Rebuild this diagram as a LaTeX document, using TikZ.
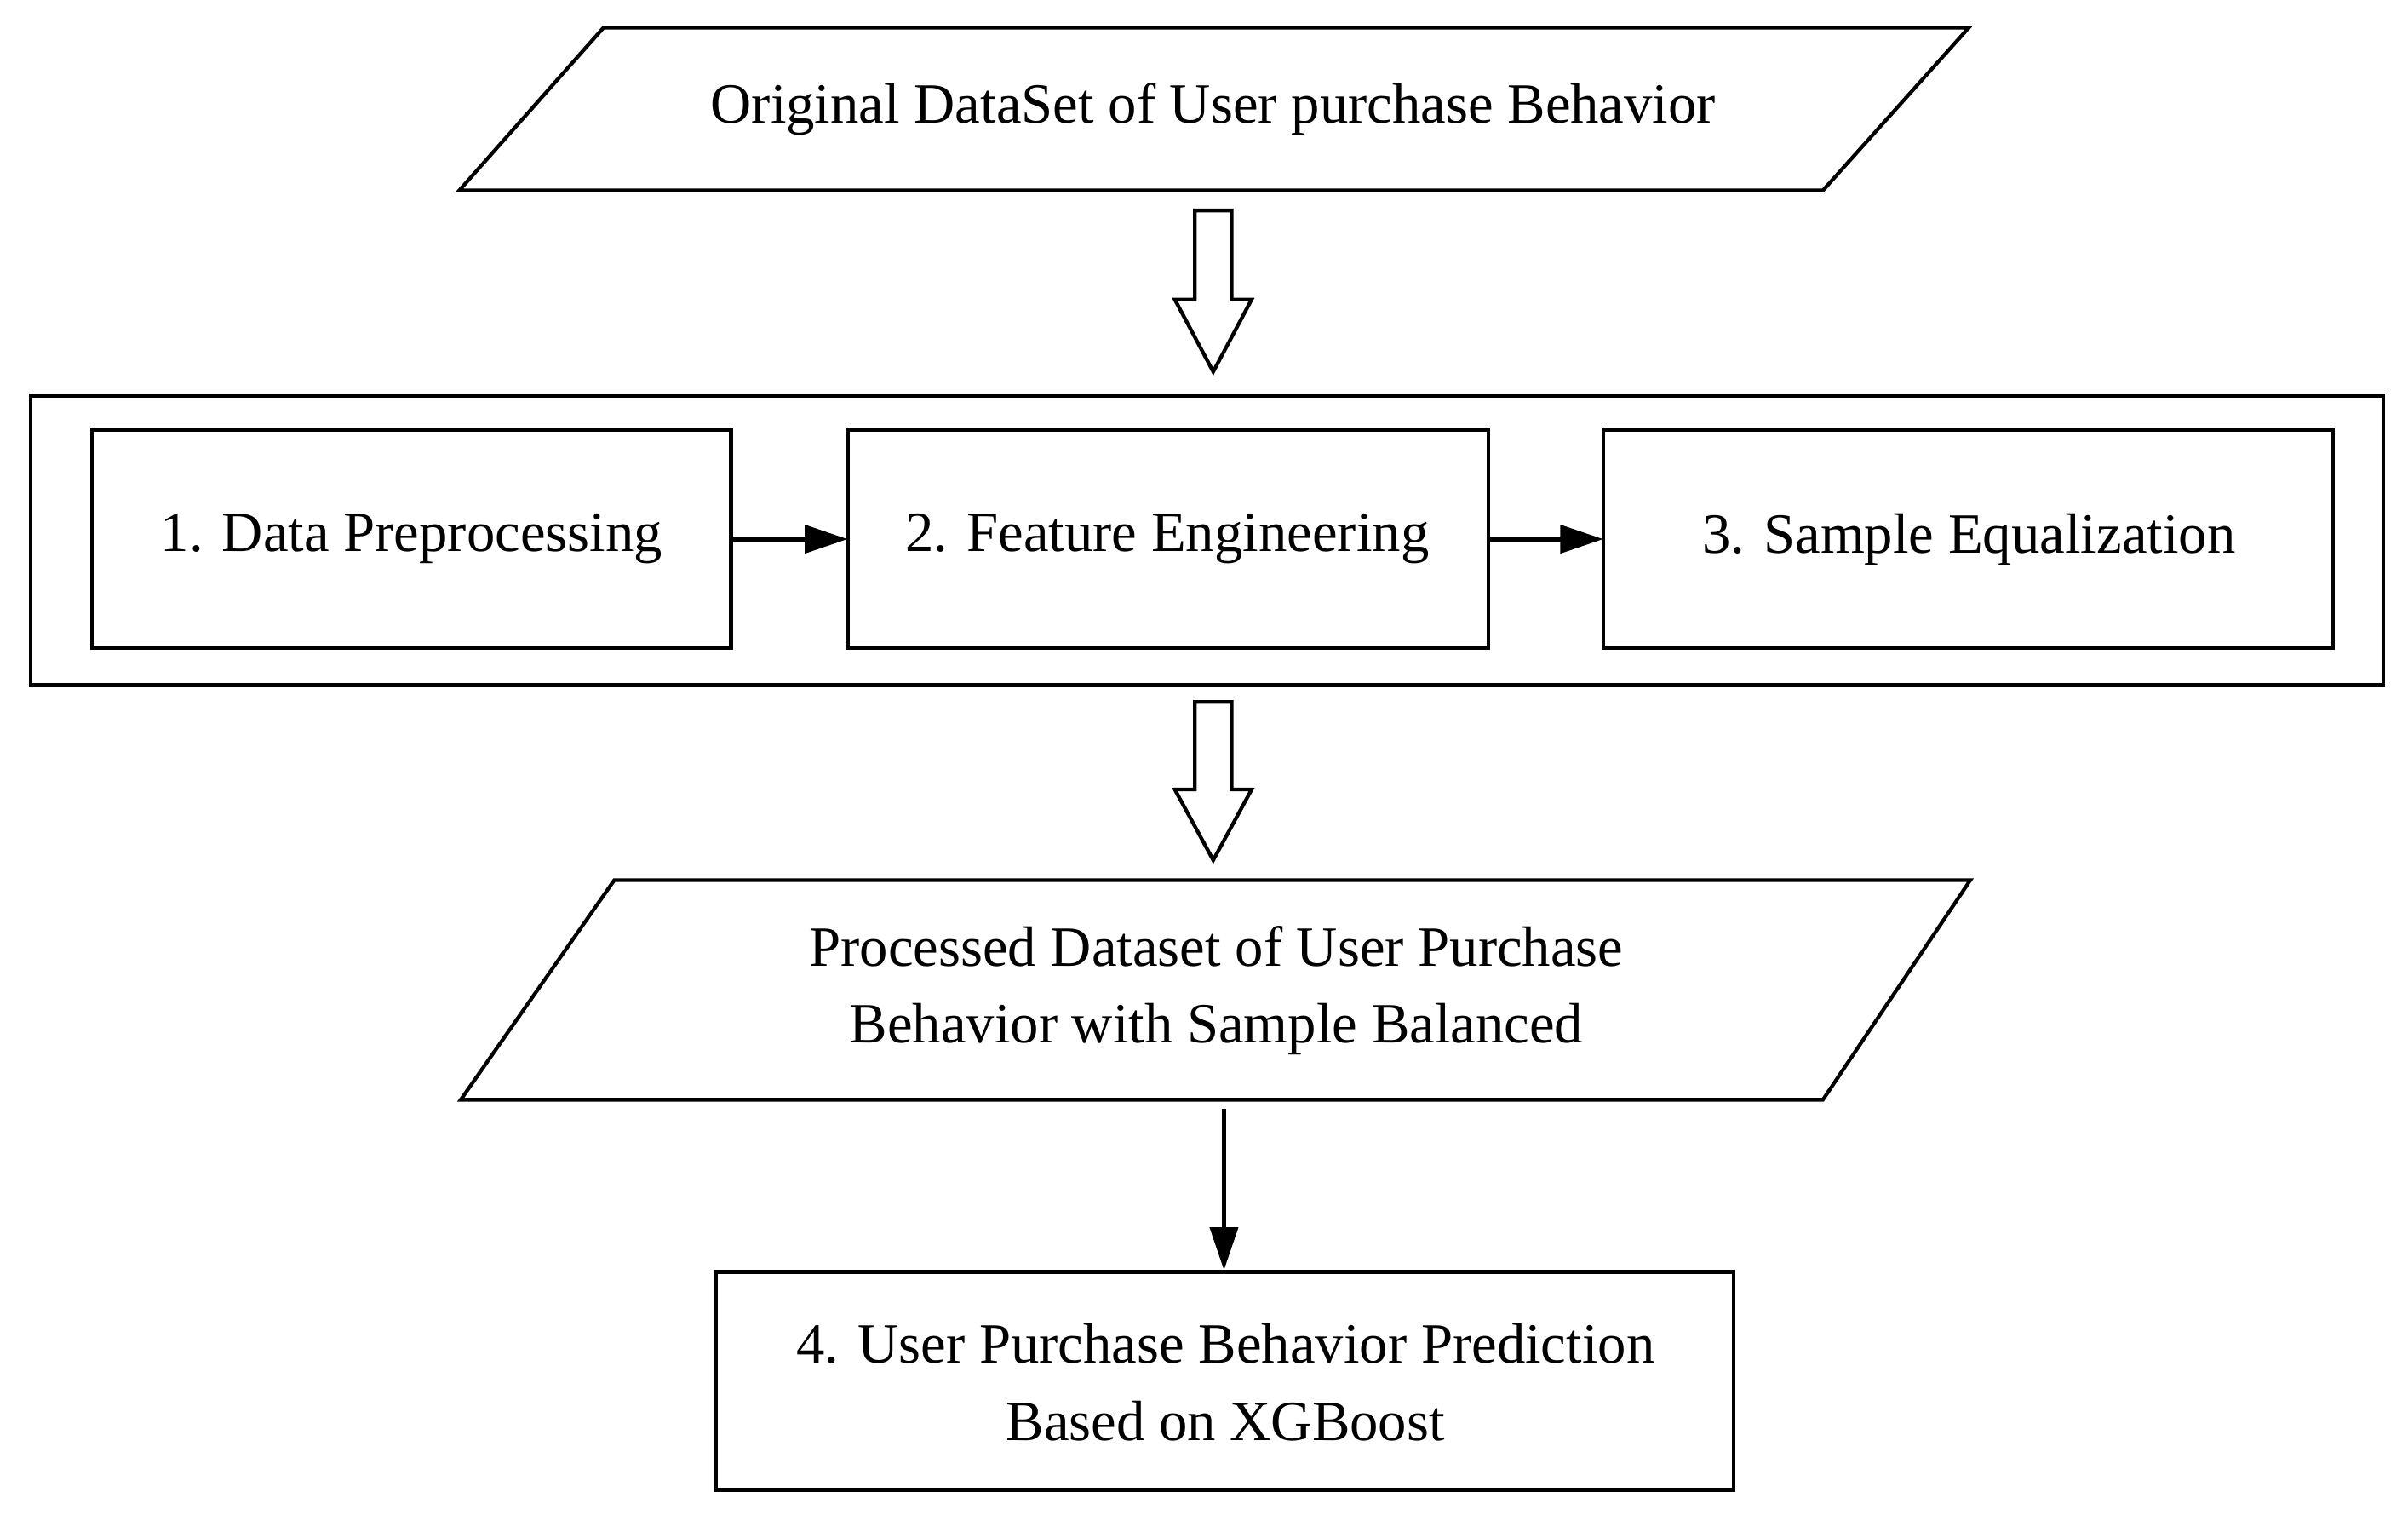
\documentclass[tikz,border=0pt]{standalone}
\usepackage{fontspec}
\setmainfont{Liberation Serif}
\usetikzlibrary{arrows.meta}
\begin{document}
\begin{tikzpicture}[x=0.5pt,y=-0.5pt,
  box/.style={draw,line width=1.2pt,inner sep=0pt},
  txt/.style={font=\fontsize{18.5}{25}\selectfont,align=center},
  hollow/.style={draw,line width=1.2pt,fill=white},
  solid/.style={draw,line width=1.6pt,-{Triangle[length=14pt,width=9pt]}}]
\useasboundingbox (0,0) rectangle (1568,990);
% top parallelogram
\draw[line width=1.2pt] (393,18) -- (1282,18) -- (1187,124) -- (299,124) -- cycle;
\node[txt] (orig) at (790,71) {Original DataSet of User purchase Behavior};
% hollow arrow 1
\draw[hollow] (778,137) -- (802,137) -- (802,195) -- (815,195) -- (790,242) -- (765,195) -- (778,195) -- cycle;
% outer rectangle
\draw[line width=1.2pt] (20,258) rectangle (1552,446);
\draw[box] (60,280) rectangle (476,422);
\draw[box] (552,280) rectangle (969,422);
\draw[box] (1044,280) rectangle (1519,422);
\node[txt] (b1) at (268,351) {1. Data Preprocessing};
\node[txt] (b2) at (760,351) {2. Feature Engineering};
\node[txt] (b3) at (1282,351) {3. Sample Equalization};
\coordinate (b1e) at (476,351); \coordinate (b2w) at (552,351);
\coordinate (b2e) at (969,351); \coordinate (b3w) at (1044,351);
\draw[solid] (b1e) -- (b2w);
\draw[solid] (b2e) -- (b3w);
% hollow arrow 2
\draw[hollow] (778,457) -- (802,457) -- (802,514) -- (815,514) -- (790,560) -- (765,514) -- (778,514) -- cycle;
% second parallelogram
\draw[line width=1.2pt] (400,573) -- (1283,573) -- (1187,716) -- (300,716) -- cycle;
\node[txt] (proc) at (792,645) {Processed Dataset of User Purchase\\Behavior with Sample Balanced};
% final arrow
\coordinate (a1) at (797,722); \coordinate (a2) at (797,827);
\draw[solid] (a1) -- (a2);
\draw[box] (466,828) rectangle (1129,970);
\node[txt] (pred) at (798,900) {4. User Purchase Behavior Prediction\\Based on XGBoost};
\end{tikzpicture}
\end{document}
